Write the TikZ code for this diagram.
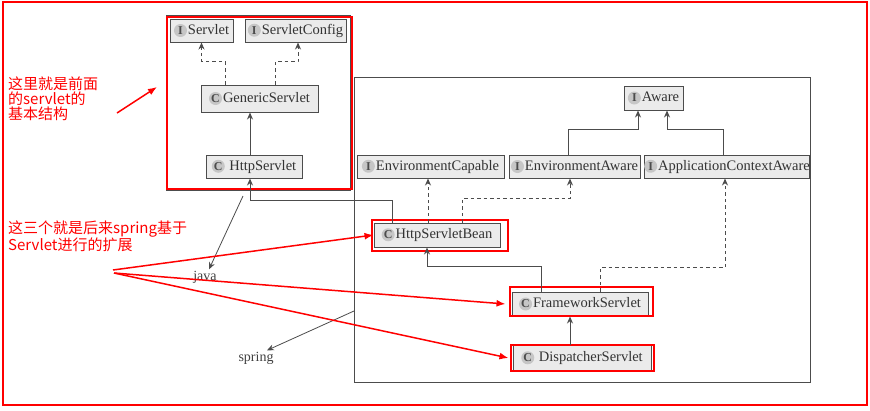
\documentclass[tikz,border=0pt]{standalone}
\usepackage{fontspec}
\setmainfont{Liberation Serif}
\newfontfamily\cjk{Noto Sans CJK SC}
\usetikzlibrary{arrows.meta,calc}
\newcommand\myico[1]{\tikz[baseline=(q.base)]\node[circle,fill=gray!45,inner sep=0pt,minimum size=13pt,font=\bfseries\fontsize{12}{14}\selectfont,text=black!70](q){#1};\hspace{1pt}}
\begin{document}
\begin{tikzpicture}[x=1pt,y=-1pt,
  cls/.style={draw=black!70,fill=black!8,line width=1pt,inner sep=0pt,minimum height=23pt,font=\fontsize{14.5}{16}\selectfont,text=black!80},
  inh/.style={draw=black!70,line width=1pt,-{Stealth[length=7pt,width=6pt]}},
  dep/.style={inh,dashed,dash pattern=on 3.5pt off 3pt},
  grp/.style={draw=black!70,line width=1pt},
  rd/.style={draw=red,line width=1.5pt},
  ra/.style={red,line width=1.5pt,-{Latex[length=9pt,width=7pt]}},
  rt/.style={red,font=\cjk\fontsize{15}{16}\selectfont,align=left,anchor=north west,inner sep=0pt}]
\useasboundingbox (0,0) rectangle (870,410);
\fill[white] (0,0) rectangle (870,410);
\draw[rd] (3,2) rectangle (867,405);
% groups
\draw[grp] (166,15) rectangle (350,190);
\draw[grp] (354,77) rectangle (810,382);
% nodes
\node[cls,minimum width=63pt] (servlet) at (201.5,30.5) {\myico{I}Servlet};
\node[cls,minimum width=101pt] (sconfig) at (295.5,30.5) {\myico{I}ServletConfig};
\node[cls,minimum width=117pt,minimum height=27pt] (gs) at (259.5,98.5) {\myico{C}GenericServlet};
\node[cls,minimum width=96pt] (hs) at (254,166.5) {\myico{C} HttpServlet};
\node[cls,minimum width=59pt,minimum height=24pt] (aware) at (653.5,98) {\myico{I}Aware};
\node[cls,minimum width=147pt] (ec) at (430.5,166.5) {\myico{I}EnvironmentCapable};
\node[cls,minimum width=131pt] (ea) at (574.5,166.5) {\myico{I}EnvironmentAware};
\node[cls,minimum width=162pt] (aca) at (727,166.5) {\myico{I}ApplicationContextAware};
\node[cls,minimum width=126pt,minimum height=24pt] (hsb) at (437,235) {\myico{C}HttpServletBean};
\node[cls,minimum width=136pt,minimum height=24pt] (fs) at (580,304) {\myico{C}FrameworkServlet};
\node[cls,minimum width=138pt,minimum height=26pt] (ds) at (582,358) {\myico{C} DispatcherServlet};
% red frames
\draw[rd] (167,17) rectangle (352,189);
\draw[rd] (372,220) rectangle (508,251);
\draw[rd] (510,287) rectangle (653,316);
\draw[rd] (511,345) rectangle (654,371);
% edges
\draw[dep] ([xshift=-34.5pt]gs.north) -- ++(0,-23) -| (servlet.south);
\draw[dep] ([xshift=15.5pt]gs.north) -- ++(0,-23) -| ([xshift=2.5pt]sconfig.south);
\draw[inh] ([xshift=-4pt]hs.north) -- ([xshift=-4pt]hs.north |- gs.south);
\draw[inh] ([xshift=-45pt]hsb.north) -- ++(0,-22) -| ([xshift=-4pt]hs.south);
\draw[dep] ([xshift=-9pt]hsb.north) -- ([xshift=-9pt]hsb.north |- ec.south);
\draw[dep] ([xshift=25pt]hsb.north) -- ++(0,-24) -| ([xshift=-4.5pt]ea.south);
\draw[inh] ([xshift=-6.5pt]ea.north) -- ++(0,-25) -| ([xshift=-15.5pt]aware.south);
\draw[inh] ([xshift=-4pt]aca.north) -- ++(0,-25) -| ([xshift=13.5pt]aware.south);
\draw[inh] ([xshift=-39pt]fs.north) -- ++(0,-25) -| ([xshift=-10pt]hsb.south);
\draw[dep] ([xshift=20pt]fs.north) -- ++(0,-24) -| ([xshift=-2pt]aca.south);
\draw[inh] ([xshift=-12pt]ds.north) -- ([xshift=-12pt]ds.north |- fs.south);
% packages
\node[font=\fontsize{14}{16}\selectfont,text=black!75] (java) at (205,277) {java};
\node[font=\fontsize{14}{16}\selectfont,text=black!75] (spring) at (256,358) {spring};
\coordinate (j0) at (243,196);
\coordinate (s0) at (354,311);
\draw[inh,line width=0.8pt] (j0) -- ([xshift=4pt,yshift=-2pt]java.north);
\draw[inh,line width=0.8pt] (s0) -- ([xshift=11pt,yshift=-2pt]spring.north);
% red annotations
\node[rt] (t1) at (8,77) {这里就是前面\\[-1pt]的servlet的\\[-1pt]基本结构};
\node[rt] (t2) at (8,221) {这三个就是后来spring基于\\[-1pt]Servlet进行的扩展};
\coordinate (a1) at (117,113);
\coordinate (a2) at (113,270);
\coordinate (a3) at (114,273);
\draw[ra] (a1) -- (157,87);
\draw[ra] (a2) -- (hsb.west);
\draw[ra] (a3) -- ([xshift=-6pt]fs.west);
\draw[ra] (a3) -- ([xshift=-4pt]ds.west);
\end{tikzpicture}
\end{document}
